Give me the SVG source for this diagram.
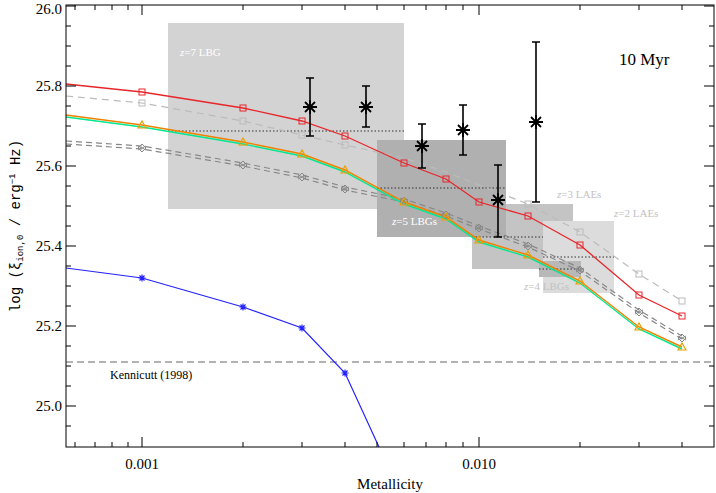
<svg xmlns="http://www.w3.org/2000/svg" width="716" height="493" viewBox="0 0 716 493" font-family="'Liberation Serif', 'DejaVu Serif', serif">
<style>
text{fill:#000}
.tk{font-size:15px}
.ax{stroke:#000;stroke-width:1;fill:none}
.bl{font-size:11px;fill:#fff}
.gl{font-size:11px;fill:#c2c2c2}
.dot{stroke:#333;stroke-width:1;stroke-dasharray:1.5,2}
.sqr{fill:none;stroke:#e8262a;stroke-width:1}
.sqg{fill:none;stroke:#bbb;stroke-width:1}
.err{stroke:#000;stroke-width:1.6;fill:none}
</style>
<defs>
<g id="ast"><path d="M-7,0H7M0,-7V7M-5,-5L5,5M-5,5L5,-5" stroke="#000" stroke-width="1.8"/></g>
<g id="bst"><path d="M-3.5,0H3.5M0,-3.5V3.5M-2.5,-2.5L2.5,2.5M-2.5,2.5L2.5,-2.5" stroke="#22f" stroke-width="1.2"/></g>
<g id="dia"><path d="M0,-4L4,0L0,4L-4,0Z M-4,-2L4,2 M-4,2L4,-2" stroke="#888" stroke-width="1" fill="none"/></g>
<g id="tri"><path d="M0,-4L4,3H-4Z" stroke="#e8a000" stroke-width="1.2" fill="none"/></g>
</defs>
<rect width="716" height="493" fill="#fff"/>
<g id="boxes">
<rect x="168" y="23" width="236" height="186" fill="#d3d3d3"/>
<line class="dot" x1="168" y1="131" x2="404" y2="131"/>
<rect x="472" y="204" width="101" height="65" fill="#c4c4c4"/>
<rect x="377" y="140" width="129" height="97" fill="#b0b0b0"/>
<line class="dot" x1="377" y1="188" x2="506" y2="188"/>
<line class="dot" x1="472" y1="237" x2="545" y2="237"/>
<rect x="543" y="221" width="71" height="72" fill="#dcdcdc"/>
<rect x="539" y="261" width="42" height="16" fill="#b8b8b8"/>
<line class="dot" x1="543" y1="257" x2="614" y2="257"/>
<line class="dot" x1="539" y1="269" x2="581" y2="269"/>
<text class="bl" x="180" y="56"><tspan font-style="italic">z</tspan>=7 LBG</text>
<text class="bl" x="392" y="225"><tspan font-style="italic">z</tspan>=5 LBGs</text>
<text class="gl" x="557" y="198"><tspan font-style="italic">z</tspan>=3 LAEs</text>
<text class="gl" x="614" y="217"><tspan font-style="italic">z</tspan>=2 LAEs</text>
<text class="gl" x="524" y="290"><tspan font-style="italic">z</tspan>=4 LBGs</text>
</g>
<g id="connectors">
<line x1="66" y1="362" x2="714" y2="362" stroke="#666" stroke-width="1.2" stroke-dasharray="7,4"/>
<polyline fill="none" stroke="#bbb" stroke-width="1.2" stroke-dasharray="7,5" points="66,96 142,103 243,121 302,135 345,145 404,158 446,172 479,185 528,204 580,232 639,274 682,301"/>
<polyline fill="none" stroke="#888" stroke-width="1.2" stroke-dasharray="6,4" points="66,141 142,146 243,163 302,175 345,187 404,199 446,213 479,226 528,244 580,268 639,310 682,336"/>
<polyline fill="none" stroke="#888" stroke-width="1.2" stroke-dasharray="6,4" points="66,144 142,149 243,166 302,178 345,190 404,202 446,216 479,229 528,247 580,271 639,313 682,339"/>
<polyline fill="none" stroke="#00e890" stroke-width="1.4" points="66,117 142,127 243,144 302,156 345,172 404,204 446,219 479,242 528,257 580,283 639,329 682,349"/>
<polyline fill="none" stroke="#f08000" stroke-width="1.4" points="66,115 142,125 243,142 302,154 345,170 404,202 446,217 479,240 528,255 580,281 639,327 682,347"/>
<polyline fill="none" stroke="#e8262a" stroke-width="1.3" points="66,84 142,92 243,108 302,121 345,136 404,163 446,179 479,202 528,216 580,245 639,295 682,316"/>
<polyline fill="none" stroke="#22f" stroke-width="1.2" points="66,268 142,278 243,307 302,328 345,373 379,447"/>
</g>
<g id="markers">
<g class="sqg"><rect x="139" y="100" width="6" height="6"/><rect x="240" y="118" width="6" height="6"/><rect x="299" y="132" width="6" height="6"/><rect x="342" y="142" width="6" height="6"/><rect x="525" y="201" width="6" height="6"/><rect x="577" y="229" width="6" height="6"/><rect x="636" y="271" width="6" height="6"/><rect x="679" y="298" width="6" height="6"/></g>
<g class="sqr"><rect x="139" y="89" width="6" height="6"/><rect x="240" y="105" width="6" height="6"/><rect x="299" y="118" width="6" height="6"/><rect x="342" y="133" width="6" height="6"/><rect x="401" y="160" width="6" height="6"/><rect x="443" y="176" width="6" height="6"/><rect x="476" y="199" width="6" height="6"/><rect x="525" y="213" width="6" height="6"/><rect x="577" y="242" width="6" height="6"/><rect x="636" y="292" width="6" height="6"/><rect x="679" y="313" width="6" height="6"/></g>
<use href="#dia" x="142" y="148"/><use href="#dia" x="243" y="165"/><use href="#dia" x="302" y="177"/><use href="#dia" x="345" y="189"/><use href="#dia" x="404" y="201"/><use href="#dia" x="446" y="215"/><use href="#dia" x="479" y="228"/><use href="#dia" x="528" y="246"/><use href="#dia" x="580" y="270"/><use href="#dia" x="639" y="312"/><use href="#dia" x="682" y="338"/>
<use href="#tri" x="142" y="125"/><use href="#tri" x="243" y="142"/><use href="#tri" x="302" y="154"/><use href="#tri" x="345" y="170"/><use href="#tri" x="404" y="202"/><use href="#tri" x="446" y="217"/><use href="#tri" x="479" y="240"/><use href="#tri" x="528" y="255"/><use href="#tri" x="580" y="281"/><use href="#tri" x="639" y="327"/><use href="#tri" x="682" y="347"/>
<use href="#bst" x="142" y="278"/><use href="#bst" x="243" y="307"/><use href="#bst" x="302" y="328"/><use href="#bst" x="345" y="373"/>
</g>
<g id="data">
<path class="err" d="M310,78V136M306,78H314M306,136H314 M366,86V127M362,86H370M362,127H370 M422,124V168M418,124H426M418,168H426 M463,105V155M459,105H467M459,155H467 M498,165V237M494,165H502M494,237H502 M536,42V202M532,42H540M532,202H540"/>
<use href="#ast" x="310" y="107"/><use href="#ast" x="366" y="107"/><use href="#ast" x="422" y="146"/><use href="#ast" x="463" y="130"/><use href="#ast" x="498" y="200"/><use href="#ast" x="536" y="122"/>
</g>
<g id="axes">
<rect class="ax" x="66" y="5" width="648" height="442"/>
<path class="ax" d="M142,447v-10M142,5v10M479,447v-10M479,5v10 M75,447v-5M95,447v-5M112,447v-5M128,447v-5M243,447v-5M302,447v-5M345,447v-5M377,447v-5M404,447v-5M426,447v-5M446,447v-5M463,447v-5M580,447v-5M639,447v-5M682,447v-5 M75,5v5M95,5v5M112,5v5M128,5v5M243,5v5M302,5v5M345,5v5M377,5v5M404,5v5M426,5v5M446,5v5M463,5v5M580,5v5M639,5v5M682,5v5"/>
<path class="ax" d="M66,6h10M66,86h10M66,166h10M66,246h10M66,326h10M66,406h10 M714,6h-10M714,86h-10M714,166h-10M714,246h-10M714,326h-10M714,406h-10 M66,26h5M66,46h5M66,66h5M66,106h5M66,126h5M66,146h5M66,186h5M66,206h5M66,226h5M66,266h5M66,286h5M66,306h5M66,346h5M66,366h5M66,386h5M66,426h5 M714,26h-5M714,46h-5M714,66h-5M714,106h-5M714,126h-5M714,146h-5M714,186h-5M714,206h-5M714,226h-5M714,266h-5M714,286h-5M714,306h-5M714,346h-5M714,366h-5M714,386h-5M714,426h-5"/>
<g class="tk" text-anchor="end"><text x="62" y="14">26.0</text><text x="62" y="91">25.8</text><text x="62" y="171">25.6</text><text x="62" y="251">25.4</text><text x="62" y="331">25.2</text><text x="62" y="411">25.0</text></g>
<g class="tk" text-anchor="middle"><text x="142" y="469">0.001</text><text x="479" y="469">0.010</text><text x="390" y="489">Metallicity</text></g>
<text x="20" y="226" font-size="14" text-anchor="middle" transform="rotate(-90 20 226)" font-family="'Liberation Mono', 'DejaVu Sans Mono', monospace">log (ξ<tspan font-size="9" dy="3">ion,0</tspan><tspan dy="-3"> / erg</tspan><tspan font-size="9" dy="-5">−1</tspan><tspan dy="5"> Hz)</tspan></text>
<text x="619" y="65" font-size="17">10 Myr</text>
<text x="110" y="379" font-size="12">Kennicutt (1998)</text>
</g>
</svg>
